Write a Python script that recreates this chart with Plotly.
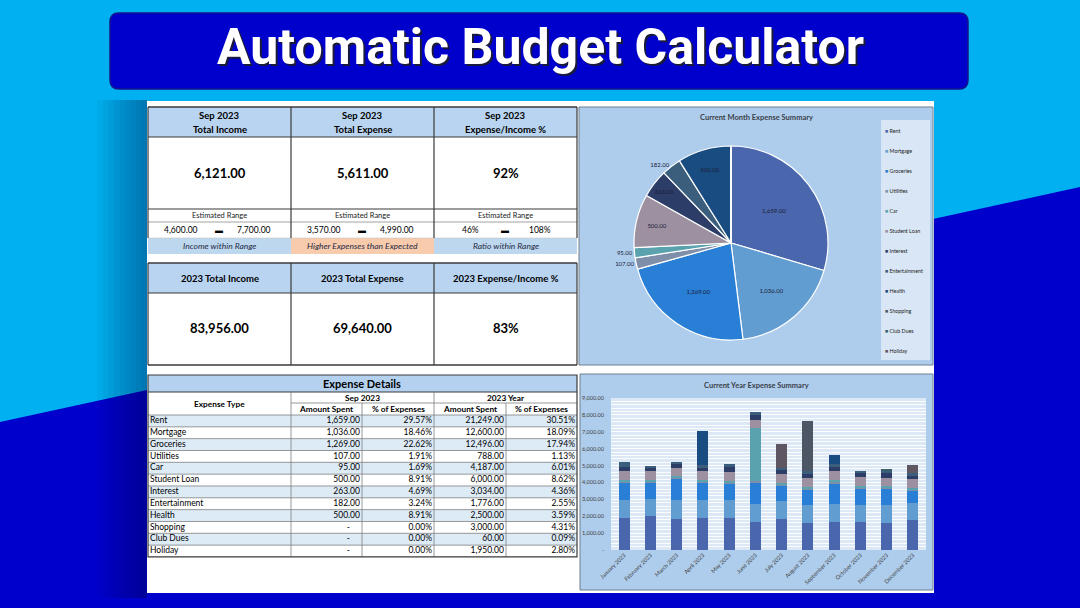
import plotly.graph_objects as go

W, H = 1080, 608
def X(px): return px / W
def Y(py): return 1 - py / H

FONT = "Lato"

# ---------------- data ----------------
categories = ["Rent", "Mortgage", "Groceries", "Utilities", "Car", "Student Loan",
              "Interest", "Entertainment", "Health", "Shopping", "Club Dues", "Holiday"]
colors = ["#4A66AC", "#629DD1", "#297FD5", "#7F8FA9", "#5AA2AE", "#9D90A0",
          "#2C3D67", "#3B5E7D", "#194C80", "#4C5665", "#366168", "#5E5660"]

sep_spent = [1659, 1036, 1269, 107, 95, 500, 263, 182, 500, 0, 0, 0]
sep_pct = [29.57, 18.46, 22.62, 1.91, 1.69, 8.91, 4.69, 3.24, 8.91, 0.00, 0.00, 0.00]
year_spent = [21249, 12600, 12496, 788, 4187, 6000, 3034, 1776, 2500, 3000, 60, 1950]
year_pct = [30.51, 18.09, 17.94, 1.13, 6.01, 8.62, 4.36, 2.55, 3.59, 4.31, 0.09, 2.80]

months = ["January 2023", "February 2023", "March 2023", "April 2023", "May 2023", "June 2023",
          "July 2023", "August 2023", "September 2023", "October 2023", "November 2023", "December 2023"]
rent_m = [1880, 2010, 1830, 1920, 1880, 1660, 1840, 1620, 1659, 1630, 1590, 1760]
mortgage_m = [1070, 990, 1110, 1044, 1090, 1050, 1070, 1030, 1036, 1030, 1050, 1030]
groceries_m = [1050, 990, 1270, 1050, 990, 1310, 910, 930, 1269, 990, 990, 747]
utilities_m = [70, 68, 65, 60, 58, 55, 62, 64, 107, 60, 58, 61]
car_m = [95, 95, 95, 95, 95, 3142, 95, 95, 95, 95, 95, 95]
student_loan_m = [500, 500, 500, 500, 500, 500, 500, 500, 500, 500, 500, 500]
interest_m = [250, 245, 260, 200, 280, 270, 266, 280, 263, 270, 250, 200]
entertainment_m = [300, 60, 80, 160, 185, 160, 100, 140, 182, 60, 199, 150]
health_m = [0, 0, 0, 2000, 0, 0, 0, 0, 500, 0, 0, 0]
shopping_m = [0, 0, 0, 0, 0, 0, 0, 3000, 0, 0, 0, 0]
club_dues_m = [0, 0, 0, 0, 0, 0, 0, 0, 0, 0, 60, 0]
holiday_m = [0, 0, 0, 0, 0, 0, 1450, 0, 0, 0, 0, 500]
monthly_series = [rent_m, mortgage_m, groceries_m, utilities_m, car_m, student_loan_m,
                  interest_m, entertainment_m, health_m, shopping_m, club_dues_m, holiday_m]

ytick_vals = [0, 1000, 2000, 3000, 4000, 5000, 6000, 7000, 8000, 9000]
ytick_text = ["-", "1,000.00", "2,000.00", "3,000.00", "4,000.00", "5,000.00",
              "6,000.00", "7,000.00", "8,000.00", "9,000.00"]

kpi_month_period = ["Sep 2023", "Sep 2023", "Sep 2023"]
kpi_month_labels = ["Total Income", "Total Expense", "Expense/Income %"]
kpi_month_values = ["6,121.00", "5,611.00", "92%"]
range_low = ["4,600.00", "3,570.00", "46%"]
range_high = ["7,700.00", "4,990.00", "108%"]
status_text = ["Income within Range", "Higher Expenses than Expected", "Ratio within Range"]
status_fill = ["#BDD7EE", "#F8CBAD", "#BDD7EE"]
kpi_year_labels = ["2023 Total Income", "2023 Total Expense", "2023 Expense/Income %"]
kpi_year_values = ["83,956.00", "69,640.00", "83%"]

# ---------------- helpers ----------------
shapes = []
annotations = []

def rect(x0, y0, x1, y1, fill="rgba(0,0,0,0)", line="rgba(0,0,0,0)", lw=0, layer="below"):
    shapes.append(dict(type="rect", xref="paper", yref="paper", x0=X(x0), x1=X(x1),
                       y0=Y(y1), y1=Y(y0), fillcolor=fill,
                       line=dict(color=line, width=lw), layer=layer))

def hline(x0, x1, y, color="#3a3a3a", lw=1, layer="below"):
    shapes.append(dict(type="line", xref="paper", yref="paper", x0=X(x0), x1=X(x1),
                       y0=Y(y), y1=Y(y), line=dict(color=color, width=lw), layer=layer))

def vline(x, y0, y1, color="#3a3a3a", lw=1, layer="below"):
    shapes.append(dict(type="line", xref="paper", yref="paper", x0=X(x), x1=X(x),
                       y0=Y(y0), y1=Y(y1), line=dict(color=color, width=lw), layer=layer))

def ann(x, y, text, size=9, color="black", xanchor="center", family=FONT, bold=False, italic=False):
    if bold:
        text = "<b>" + text + "</b>"
    if italic:
        text = "<i>" + text + "</i>"
    annotations.append(dict(xref="paper", yref="paper", x=X(x), y=Y(y), text=text,
                            showarrow=False, xanchor=xanchor, yanchor="middle",
                            font=dict(size=size, color=color, family=family)))

def rounded_path(x0, y0, x1, y1, r):
    return (f"M {X(x0+r)},{Y(y0)} L {X(x1-r)},{Y(y0)} Q {X(x1)},{Y(y0)} {X(x1)},{Y(y0+r)} "
            f"L {X(x1)},{Y(y1-r)} Q {X(x1)},{Y(y1)} {X(x1-r)},{Y(y1)} "
            f"L {X(x0+r)},{Y(y1)} Q {X(x0)},{Y(y1)} {X(x0)},{Y(y1-r)} "
            f"L {X(x0)},{Y(y0+r)} Q {X(x0)},{Y(y0)} {X(x0+r)},{Y(y0)} Z")

# ---------------- background ----------------
shapes.append(dict(type="path", xref="paper", yref="paper",
                   path=f"M {X(0)},{Y(422)} L {X(1080)},{Y(187)} L {X(1080)},{Y(608)} L {X(0)},{Y(608)} Z",
                   fillcolor="#0000CC", line=dict(width=0), layer="below"))
for k in range(1, 10):
    rect(147 - 5.5 * k, 100, 147, 598, fill="rgba(0,10,40,0.04)", layer="below")

# title box
shapes.append(dict(type="path", xref="paper", yref="paper", path=rounded_path(110, 13, 968, 89, 9),
                   fillcolor="#0000CC", line=dict(color="#14148A", width=1.5), layer="below"))
ann(542, 49, "Automatic Budget Calculator", size=50, color="#1A1A3A", family="Roboto", bold=True)
ann(540, 47, "Automatic Budget Calculator", size=50, color="white", family="Roboto", bold=True)

# white dashboard panel
rect(147, 101, 934, 593, fill="white", layer="below")

# ---------------- KPI block 1 ----------------
cols = [148, 291, 434, 577]
rect(148, 107, 577, 137, fill="#B8D4F0")
for i in range(3):
    rect(cols[i], 238, cols[i + 1], 254, fill=status_fill[i])
hline(148, 577, 107, lw=1.3)
hline(148, 577, 137, lw=1.2)
hline(148, 577, 209, lw=1.2)
hline(148, 577, 222, color="#8a8a8a", lw=0.8)
hline(148, 577, 238, color="#c8c8c8", lw=0.6)
for x in cols:
    vline(x, 107, 238, lw=1.2)
for i in range(3):
    x0 = cols[i]
    cx = (cols[i] + cols[i + 1]) / 2
    ann(cx, 115, kpi_month_period[i], size=9.5, bold=True)
    ann(cx, 130, kpi_month_labels[i], size=9.5, bold=True)
    ann(cx, 173, kpi_month_values[i], size=13, bold=True)
    ann(cx, 215.5, "Estimated Range", size=7.5, color="#222222")
    lo_x = x0 + (14 if i < 2 else 26)
    hi_x = x0 + (125 if i < 2 else 119)
    ann(lo_x, 230, range_low[i], size=8.5, xanchor="left")
    ann(x0 + 71, 230, "▬", size=8, bold=True)
    ann(hi_x, 230, range_high[i], size=8.5, xanchor="right")
    ann(cx, 246, status_text[i], size=8.5, italic=True, color="#1F2A44")

# ---------------- KPI block 2 ----------------
rect(148, 263, 577, 293, fill="#B8D4F0")
hline(148, 577, 263, lw=1.3)
hline(148, 577, 293, lw=1.2)
hline(148, 577, 365, lw=1.3)
for x in cols:
    vline(x, 263, 365, lw=1.2)
for i in range(3):
    cx = (cols[i] + cols[i + 1]) / 2
    ann(cx, 278, kpi_year_labels[i], size=9.5, bold=True)
    ann(cx, 328, kpi_year_values[i], size=13, bold=True)

# ---------------- pie panel ----------------
rect(579, 107, 933, 365, fill="#AECDEC", line="#6f7f8f", lw=1)
ann(756, 118, "Current Month Expense Summary", size=7.5, bold=True, color="#3A3F4A")
rect(881, 120, 930, 360, fill="#D9E6F5")
for i, (cat, col) in enumerate(zip(categories, colors)):
    ann(883, 131 + 20 * i, f'<span style="color:{col}">■</span> {cat}', size=5.3,
        xanchor="left", color="#222222")

# ---------------- bar panel ----------------
rect(580, 374, 933, 590, fill="#AECDEC", line="#6f7f8f", lw=1)
rect(611, 398, 926, 550, fill="#DCE8F6")
ann(756, 385, "Current Year Expense Summary", size=7.5, bold=True, color="#3A3F4A")

# ---------------- expense table (grid) ----------------
tcols = [148, 291, 362, 434, 506, 577]
ROW0, RH = 415, 11.83
nrows = len(categories)
tbottom = ROW0 + RH * nrows
rect(148, 375, 577, 392, fill="#B4D2F0")
for i in range(nrows):
    if i % 2 == 0:
        rect(148, ROW0 + RH * i, 577, ROW0 + RH * (i + 1), fill="#DDEBF7")
hline(148, 577, 392, color="#3a3a3a", lw=1)
hline(291, 577, 403, color="#7f7f7f", lw=0.8)
for i in range(nrows):
    hline(148, 577, ROW0 + RH * i, color="#7f7f7f", lw=0.8)
vline(291, 392, tbottom, color="#7f7f7f", lw=0.8)
vline(434, 392, tbottom, color="#7f7f7f", lw=0.8)
vline(362, 403, tbottom, color="#7f7f7f", lw=0.8)
vline(506, 403, tbottom, color="#7f7f7f", lw=0.8)
rect(148, 375, 577, tbottom, line="#3a3a3a", lw=1.2)
ann(362, 383.5, "Expense Details", size=11, bold=True)
ann(362.5, 397.5, "Sep 2023", size=8.3, bold=True)
ann(505.5, 397.5, "2023 Year", size=8.3, bold=True)
ann(219.5, 403.5, "Expense Type", size=8.3, bold=True)
for j, h in enumerate(["Amount Spent", "% of Expenses", "Amount Spent", "% of Expenses"]):
    ann((tcols[j + 1] + tcols[j + 2]) / 2, 409, h, size=8.3, bold=True)

# ---------------- traces ----------------
fig = go.Figure()

for cat, col, vals in zip(categories, colors, monthly_series):
    fig.add_trace(go.Bar(x=months, y=vals, name=cat, marker=dict(color=col, line=dict(width=0)),
                         showlegend=False, xaxis="x", yaxis="y"))

pie_text = [f"{v:,.2f}" if v else "" for v in sep_spent]
pie_pos = ["inside", "inside", "inside", "outside", "outside", "inside",
           "inside", "outside", "inside", "none", "none", "none"]
fig.add_trace(go.Pie(labels=categories, values=sep_spent, sort=False, direction="clockwise",
                     rotation=0, marker=dict(colors=colors, line=dict(color="white", width=1.2)),
                     text=pie_text, textinfo="text", textposition=pie_pos,
                     textfont=dict(size=6, color="#1B1B3A", family=FONT),
                     insidetextorientation="horizontal",
                     domain=dict(x=[X(634), X(828)], y=[Y(340), Y(146)]),
                     showlegend=False, hoverinfo="label+value", automargin=False))

# table cell texts drawn on a pixel-unit table axis
row_y = [ROW0 + RH * (i + 0.5) for i in range(nrows)]
sep_fmt = [f"{v:,.2f}" if v else "-" for v in sep_spent]
sep_x = [tcols[2] - 2 if v else tcols[2] - 12 for v in sep_spent]
sep_pct_fmt = [f"{v:.2f}%" for v in sep_pct]
year_fmt = [f"{v:,.2f}" for v in year_spent]
year_pct_fmt = [f"{v:.2f}%" for v in year_pct]
tfont = dict(size=8.5, color="black", family=FONT)
fig.add_trace(go.Scatter(x=[tcols[0] + 2] * nrows, y=row_y, text=categories, mode="text",
                         textposition="middle right", textfont=tfont, xaxis="x2", yaxis="y2",
                         showlegend=False, hoverinfo="skip"))
for xs, txt in [(sep_x, sep_fmt), ([tcols[3] - 2] * nrows, sep_pct_fmt),
                ([tcols[4] - 2] * nrows, year_fmt), ([tcols[5] - 2] * nrows, year_pct_fmt)]:
    fig.add_trace(go.Scatter(x=xs, y=row_y, text=txt, mode="text", textposition="middle left",
                             textfont=tfont, xaxis="x2", yaxis="y2", showlegend=False,
                             hoverinfo="skip"))

fig.update_layout(
    width=W, height=H, autosize=False,
    margin=dict(l=0, r=0, t=0, b=0, pad=0, autoexpand=False),
    paper_bgcolor="#00B0F0", plot_bgcolor="rgba(0,0,0,0)",
    barmode="stack", bargap=0.59, showlegend=False,
    xaxis=dict(domain=[X(611), X(926)], anchor="y", tickangle=-45, showgrid=False,
               ticks="", showline=False, fixedrange=True, automargin=False,
               tickfont=dict(size=5.6, color="#404040", family=FONT)),
    yaxis=dict(domain=[Y(550), Y(398)], anchor="x", range=[0, 9000],
               tickvals=ytick_vals, ticktext=ytick_text, gridcolor="white", gridwidth=1,
               minor=dict(dtick=200, showgrid=True, gridcolor="rgba(255,255,255,0.85)", gridwidth=0.6),
               zeroline=False, ticks="", showline=False, fixedrange=True, automargin=False,
               ticklabelstandoff=6,
               tickfont=dict(size=5.6, color="#404040", family=FONT)),
    xaxis2=dict(domain=[X(148), X(577)], anchor="y2", range=[148, 577], visible=False,
                fixedrange=True, automargin=False),
    yaxis2=dict(domain=[Y(tbottom), Y(375)], anchor="x2", range=[tbottom, 375], visible=False,
                fixedrange=True, automargin=False),
    shapes=shapes, annotations=annotations,
)

fig.write_html("out.html")
